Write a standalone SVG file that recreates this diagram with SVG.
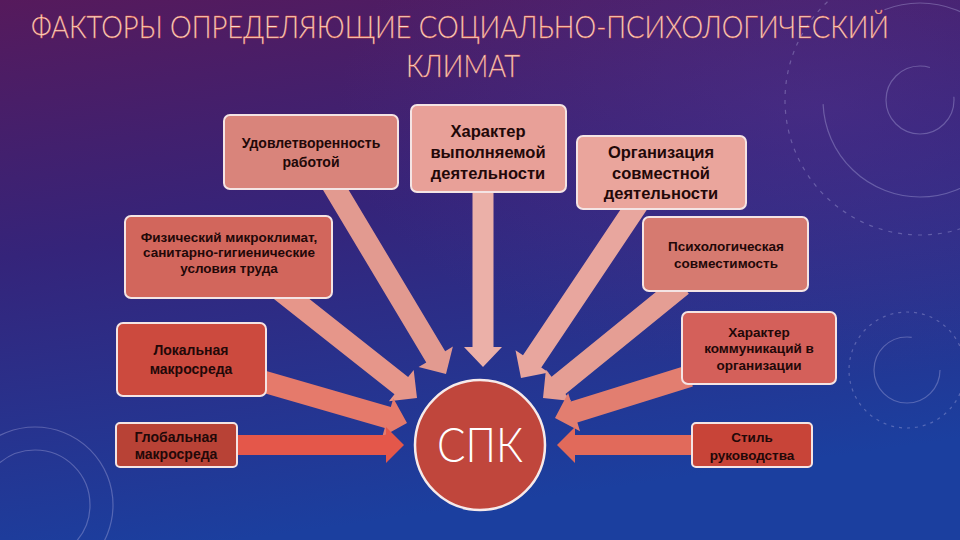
<svg xmlns="http://www.w3.org/2000/svg" width="960" height="540" viewBox="0 0 960 540">
  <defs>
    <linearGradient id="bg" x1="0" y1="0" x2="0.25" y2="1">
      <stop offset="0" stop-color="#561a5c"/>
      <stop offset="0.45" stop-color="#35247a"/>
      <stop offset="1" stop-color="#1b3f9f"/>
    </linearGradient>
    <radialGradient id="glow" cx="0.85" cy="0.2" r="0.5">
      <stop offset="0" stop-color="#5a3a9a" stop-opacity="0.35"/>
      <stop offset="1" stop-color="#5a3a9a" stop-opacity="0"/>
    </radialGradient>
    <style>
      .title { font-family: Lato, "Open Sans", "Liberation Sans", sans-serif; font-weight: 300; font-size: 31px; fill: #f8dccd; stroke: #e0583a; stroke-width: 0.35; text-anchor: middle; }
      .box { stroke: #f4e4e4; stroke-width: 2; }
      .lbl { font-family: "Liberation Sans", "DejaVu Sans", sans-serif; font-weight: bold; fill: #220808; text-anchor: middle; dominant-baseline: central; }
      .deco { fill: none; stroke: #b9b6e6; stroke-opacity: 0.35; stroke-width: 1.2; }
    </style>
  </defs>
  <rect width="960" height="540" fill="url(#bg)"/>
  <rect width="960" height="540" fill="url(#glow)"/>

  <g id="decor">
    <circle class="deco" cx="920" cy="100" r="34" stroke-dasharray="170 40"/>
    <circle class="deco" cx="920" cy="100" r="97" stroke-dasharray="300 120"/>
    <circle class="deco" cx="920" cy="100" r="135" stroke-opacity="0.2" stroke-dasharray="4 6"/>
    <circle class="deco" cx="907" cy="370" r="33" stroke-dasharray="160 50"/>
    <circle class="deco" cx="907" cy="370" r="58" stroke-opacity="0.2" stroke-dasharray="3 5"/>
    <circle class="deco" cx="35" cy="505" r="55"/>
    <circle class="deco" cx="35" cy="505" r="78" stroke-opacity="0.2"/>
  </g>

  <g id="title">
    <text class="title" x="460" y="38" textLength="858" lengthAdjust="spacingAndGlyphs">ФАКТОРЫ ОПРЕДЕЛЯЮЩИЕ СОЦИАЛЬНО-ПСИХОЛОГИЧЕСКИЙ</text>
    <text class="title" x="463" y="77" textLength="114" lengthAdjust="spacingAndGlyphs">КЛИМАТ</text>
  </g>

  <g id="connectors">
    <path transform="translate(446,374) rotate(59.1)" d="M-226,-11 L-20,-11 L-20,-20 L0,0 L-20,20 L-20,11 L-226,11 Z" fill="#e29a90"/>
    <path transform="translate(483,367) rotate(90)" d="M-182,-10.5 L-20,-10.5 L-20,-19 L0,0 L-20,19 L-20,10.5 L-182,10.5 Z" fill="#ebb0a8"/>
    <path transform="translate(521,378) rotate(123.8)" d="M-214,-11 L-20,-11 L-20,-20 L0,0 L-20,20 L-20,11 L-214,11 Z" fill="#e8a69e"/>
    <path transform="translate(543,398) rotate(140.9)" d="M-179,-11 L-20,-11 L-20,-20 L0,0 L-20,20 L-20,11 L-179,11 Z" fill="#e59e94"/>
    <path transform="translate(555,418) rotate(162.7)" d="M-141,-11 L-20,-11 L-20,-20 L0,0 L-20,20 L-20,11 L-141,11 Z" fill="#e27e70"/>
    <path transform="translate(557,445) rotate(180)" d="M-143,-10 L-18,-10 L-18,-18 L0,0 L-18,18 L-18,10 L-143,10 Z" fill="#e16a5b"/>
    <path transform="translate(417,398) rotate(38.3)" d="M-174,-11 L-20,-11 L-20,-20 L0,0 L-20,20 L-20,11 L-174,11 Z" fill="#e6968a"/>
    <path transform="translate(407,423) rotate(16.1)" d="M-155,-11 L-20,-11 L-20,-20 L0,0 L-20,20 L-20,11 L-155,11 Z" fill="#e57a6b"/>
    <path transform="translate(404,445)" d="M-174,-10 L-18,-10 L-18,-18 L0,0 L-18,18 L-18,10 L-174,10 Z" fill="#e4574a"/>
  </g>

  <g id="n-udovl">
    <rect class="box" x="224" y="115" width="174" height="74" rx="6" fill="#d9847b"/>
    <text class="lbl" x="311" y="143" font-size="14">Удовлетворенность</text>
    <text class="lbl" x="311" y="162" font-size="14">работой</text>
  </g>
  <g id="n-harakter">
    <rect class="box" x="411" y="105" width="155" height="87" rx="6" fill="#e8a098"/>
    <text class="lbl" x="488" y="131" font-size="16.5">Характер</text>
    <text class="lbl" x="488" y="152" font-size="16.5">выполняемой</text>
    <text class="lbl" x="488" y="173" font-size="16.5">деятельности</text>
  </g>
  <g id="n-organiz">
    <rect class="box" x="577" y="136" width="169" height="73" rx="6" fill="#eaa59c"/>
    <text class="lbl" x="661" y="152" font-size="16.5">Организация</text>
    <text class="lbl" x="661" y="173" font-size="16.5">совместной</text>
    <text class="lbl" x="661" y="193" font-size="16.5">деятельности</text>
  </g>
  <g id="n-fiz">
    <rect class="box" x="125" y="216" width="207" height="82" rx="6" fill="#d2665c"/>
    <text class="lbl" x="229" y="237" font-size="13.5">Физический микроклимат,</text>
    <text class="lbl" x="229" y="252" font-size="13.5">санитарно-гигиенические</text>
    <text class="lbl" x="229" y="268" font-size="13.5">условия труда</text>
  </g>
  <g id="n-psih">
    <rect class="box" x="643" y="217" width="165" height="74" rx="6" fill="#d67a70"/>
    <text class="lbl" x="726" y="246" font-size="13.5">Психологическая</text>
    <text class="lbl" x="726" y="263" font-size="13.5">совместимость</text>
  </g>
  <g id="n-lokal">
    <rect class="box" x="117" y="323" width="149" height="73" rx="6" fill="#cc4a3e"/>
    <text class="lbl" x="191" y="350" font-size="14">Локальная</text>
    <text class="lbl" x="191" y="369" font-size="14">макросреда</text>
  </g>
  <g id="n-global">
    <rect class="box" x="116" y="423" width="121" height="44" rx="4" fill="#b84236"/>
    <text class="lbl" x="176" y="437" font-size="14">Глобальная</text>
    <text class="lbl" x="176" y="454" font-size="14">макросреда</text>
  </g>
  <g id="n-komm">
    <rect class="box" x="682" y="312" width="154" height="72" rx="6" fill="#d4605a"/>
    <text class="lbl" x="759" y="332" font-size="13.5">Характер</text>
    <text class="lbl" x="759" y="348" font-size="13.5">коммуникаций в</text>
    <text class="lbl" x="759" y="365" font-size="13.5">организации</text>
  </g>
  <g id="n-stil">
    <rect class="box" x="692" y="423" width="120" height="44" rx="4" fill="#c84438"/>
    <text class="lbl" x="752" y="437" font-size="13.5">Стиль</text>
    <text class="lbl" x="752" y="455" font-size="13.5">руководства</text>
  </g>
  <g id="n-spk">
    <circle cx="480" cy="445" r="65" fill="#c0463c" stroke="#f6eaea" stroke-width="2.5"/>
    <text x="480" y="462" font-family="Lato, 'Liberation Sans', sans-serif" font-weight="300" font-size="48" fill="#ffffff" text-anchor="middle" textLength="86" lengthAdjust="spacingAndGlyphs">СПК</text>
  </g>
</svg>
